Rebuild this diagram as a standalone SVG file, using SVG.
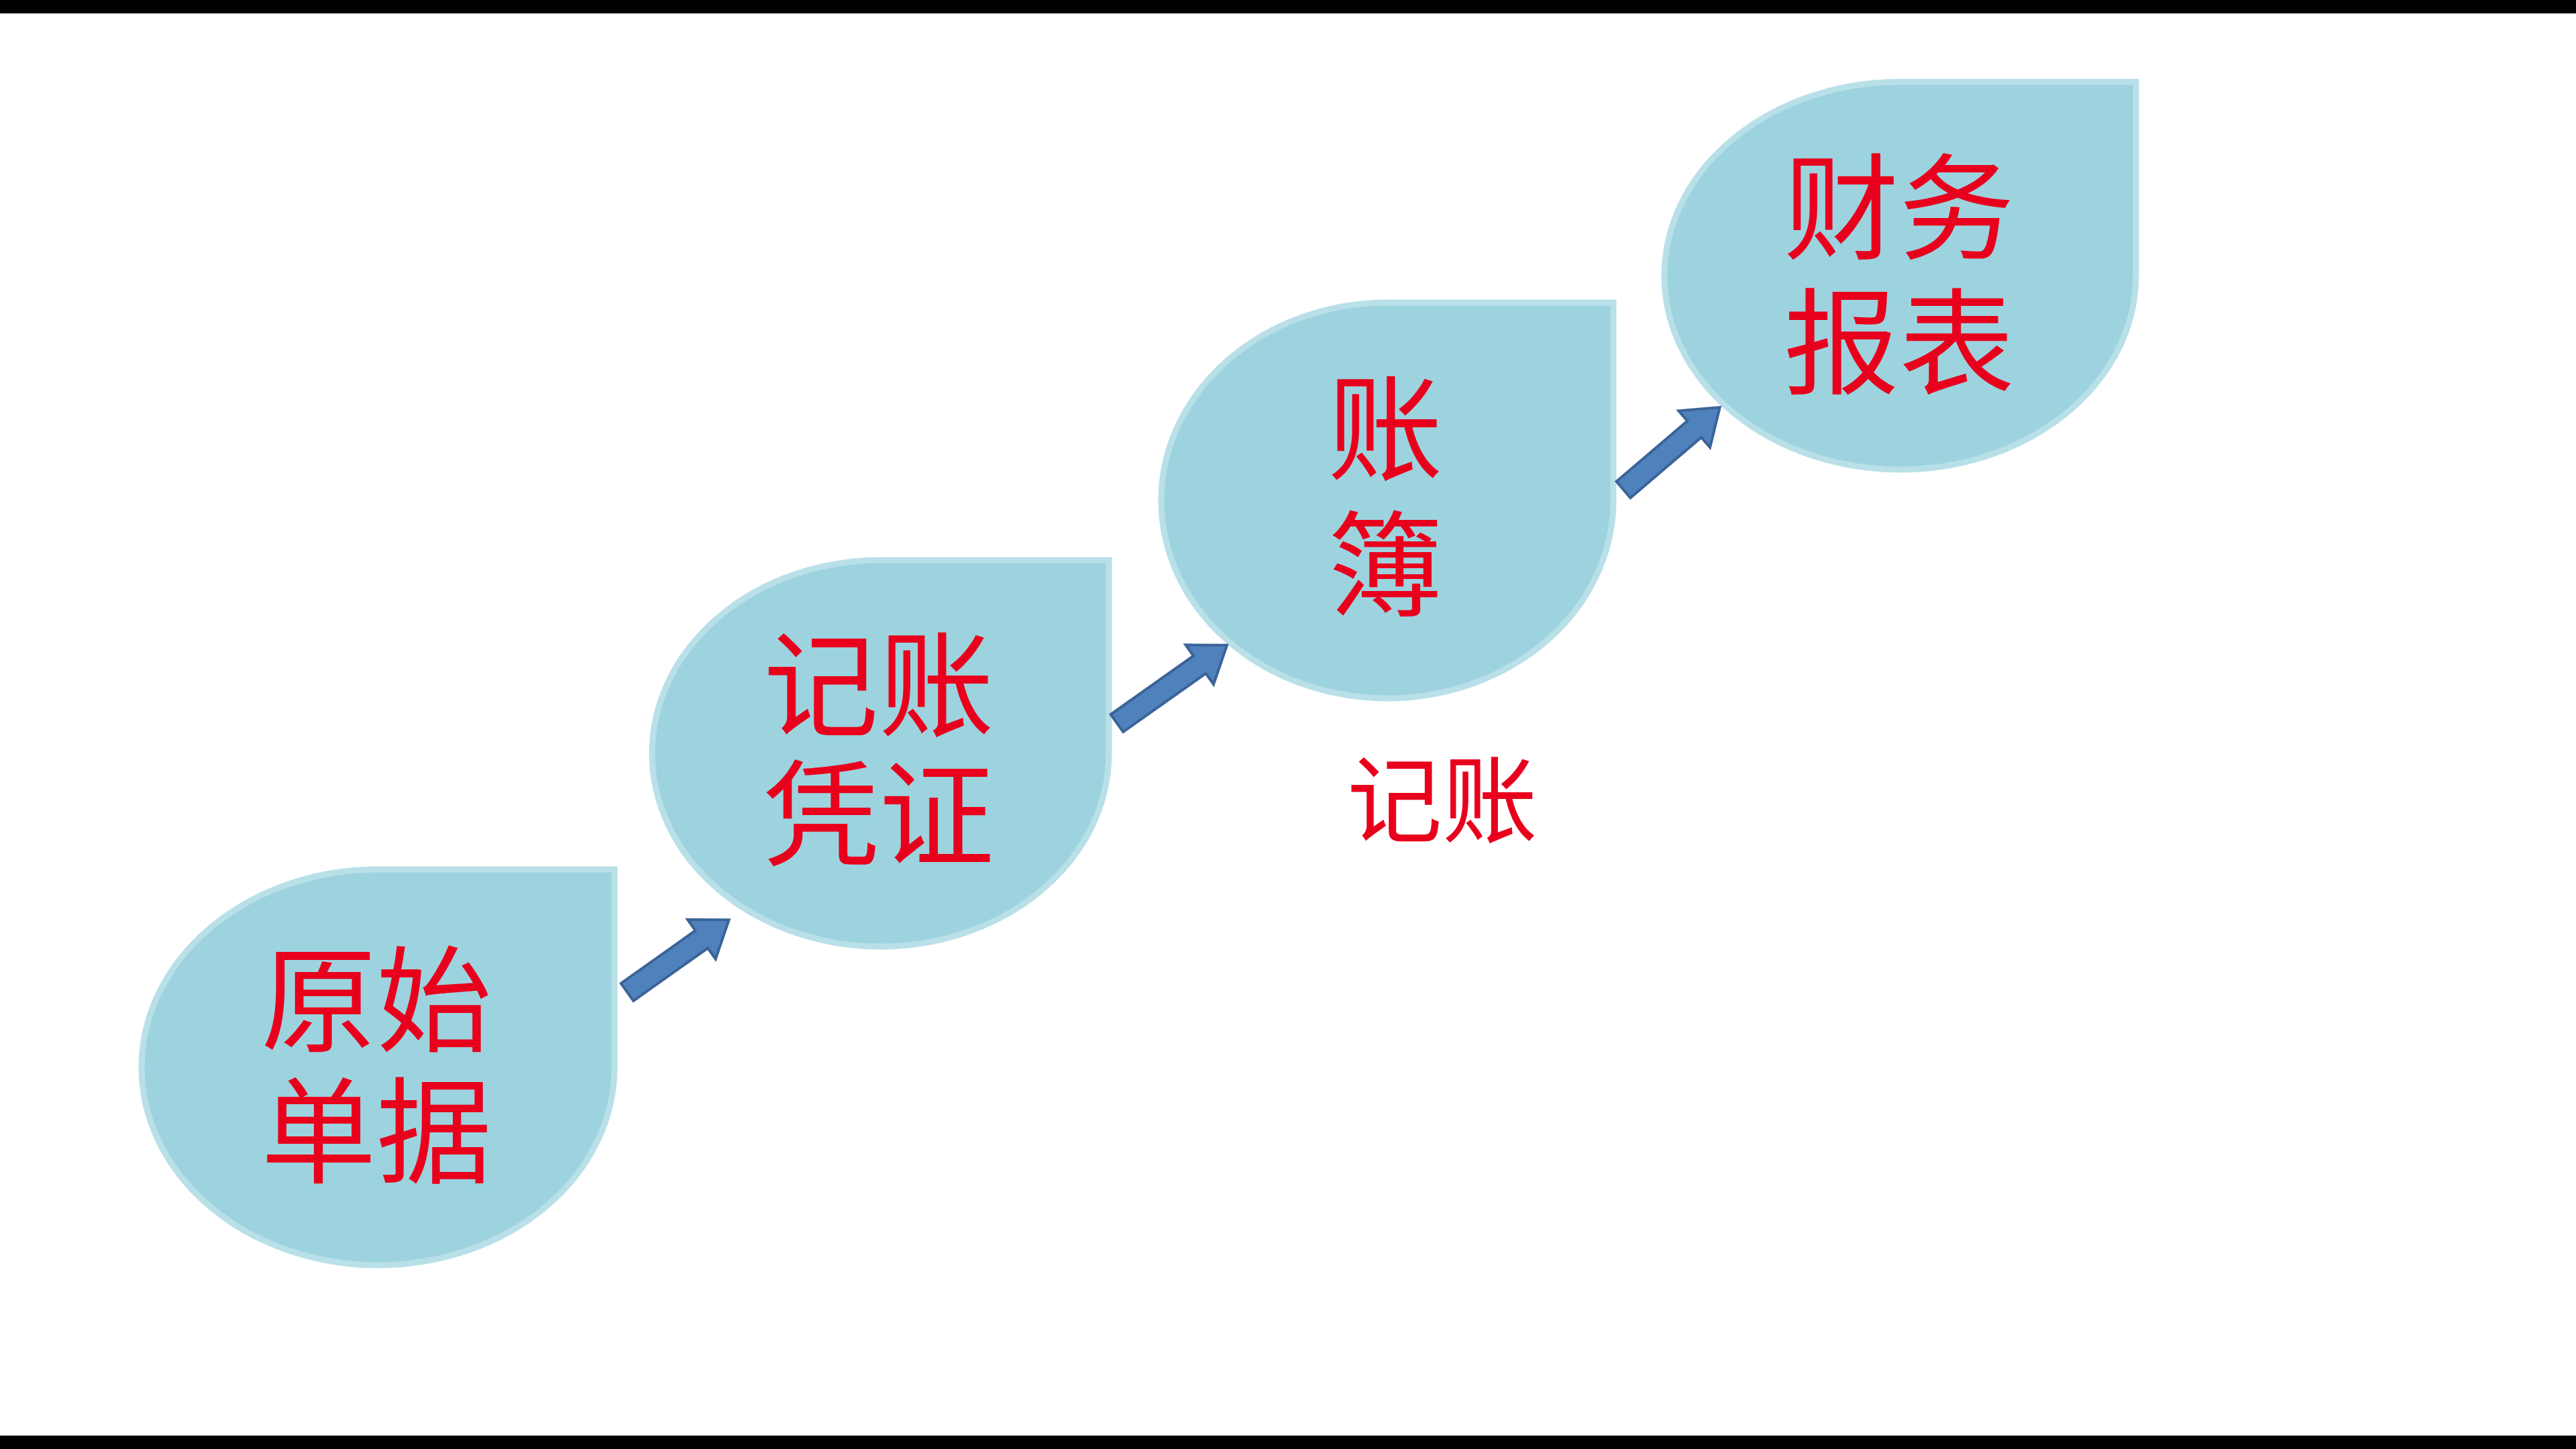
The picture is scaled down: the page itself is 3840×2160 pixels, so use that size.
<svg xmlns="http://www.w3.org/2000/svg" width="3840" height="2160" viewBox="0 0 3840 2160">
<style>
.drop{fill:#9dd3de;stroke:#b9e0e8;stroke-width:9}
.t{font-family:"Liberation Sans","Noto Sans CJK SC",sans-serif;fill:#e8001c;text-anchor:middle;dominant-baseline:central}
.big{font-size:172px}
.small{font-size:142px}
.arr{fill:#4f81bd;stroke:#3a6497;stroke-width:4}
</style>
<rect width="3840" height="2160" fill="#fff"/>
<rect width="3840" height="20" fill="#000"/>
<rect y="2140" width="3840" height="20" fill="#000"/>
<g id="node1"><path class="drop" d="M211,1591 A352.5,295 0 0 1 563.5,1296 L916,1296 L916,1591 A352.5,295 0 0 1 563.5,1886 A352.5,295 0 0 1 211,1591 Z"/>
<text class="t big" x="561" y="1494">原始</text><text class="t big" x="561" y="1690">单据</text></g>
<g id="node2"><path class="drop" d="M972,1123 A340.5,288 0 0 1 1312.5,835 L1653,835 L1653,1123 A340.5,288 0 0 1 1312.5,1411 A340.5,288 0 0 1 972,1123 Z"/>
<text class="t big" x="1310" y="1024">记账</text><text class="t big" x="1310" y="1217">凭证</text></g>
<g id="node3"><path class="drop" d="M1731,746 A337,295 0 0 1 2068,451 L2405,451 L2405,746 A337,295 0 0 1 2068,1041 A337,295 0 0 1 1731,746 Z"/>
<text class="t big" x="2065" y="642">账</text><text class="t big" x="2065" y="845">簿</text></g>
<g id="node4"><path class="drop" d="M2481,411 A351.5,289 0 0 1 2832.5,122 L3184,122 L3184,411 A351.5,289 0 0 1 2832.5,700 A351.5,289 0 0 1 2481,411 Z"/>
<text class="t big" x="2831" y="313">财务</text><text class="t big" x="2831" y="514">报表</text></g>
<g id="label"><text class="t small" x="2150" y="1195">记账</text></g>
<g id="connectors">
<path class="arr" transform="translate(935,1479) rotate(-35.4)" d="M0,-16 L136,-16 L136,-36 L186,0 L136,36 L136,16 L0,16 Z"/>
<path class="arr" transform="translate(1665,1078) rotate(-35.3)" d="M0,-16 L151,-16 L151,-36 L201,0 L151,36 L151,16 L0,16 Z"/>
<path class="arr" transform="translate(2420,730) rotate(-40.5)" d="M0,-16 L139,-16 L139,-36 L189,0 L139,36 L139,16 L0,16 Z"/>
</g>
</svg>
